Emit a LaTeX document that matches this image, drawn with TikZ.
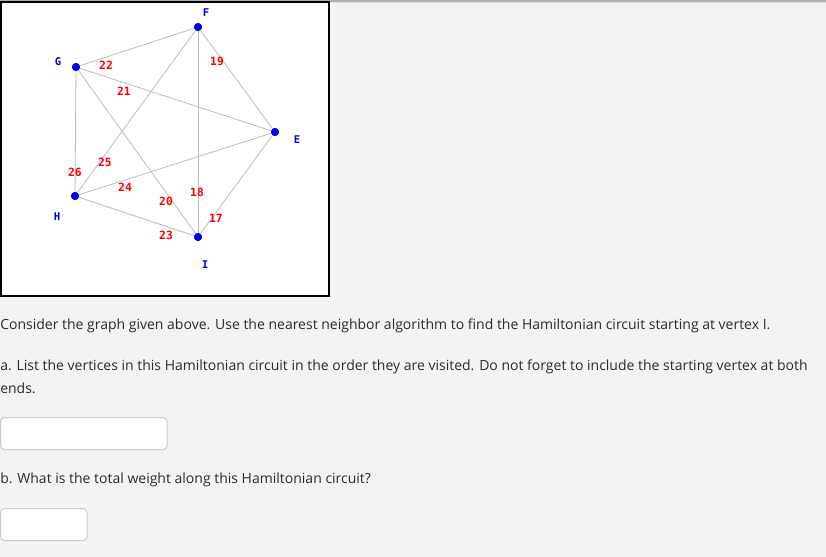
\documentclass[tikz,border=0pt]{standalone}
\usepackage{fontspec}
\setmainfont{Open Sans}
\newfontfamily\lblfont{DejaVu Sans Mono}
\definecolor{pagebg}{HTML}{F3F3F3}
\definecolor{edgegray}{HTML}{BDBDBD}
\definecolor{vblue}{HTML}{0000F0}
\definecolor{wred}{HTML}{FF0000}
\definecolor{txtgray}{HTML}{2B2B2B}
\definecolor{boxborder}{HTML}{CCCCCC}
\begin{document}
\begin{tikzpicture}[x=0.75pt,y=-0.75pt,
  vtx/.style={circle,fill=vblue,inner sep=0pt,minimum size=6pt},
  vlabel/.style={text=vblue,font=\lblfont\bfseries\fontsize{8}{9}\selectfont,inner sep=0pt},
  wlabel/.style={text=wred,font=\lblfont\bfseries\fontsize{8.5}{9}\selectfont,inner sep=0pt},
  edge/.style={draw=edgegray,line width=0.6pt},
  qtext/.style={anchor=west,text=txtgray,font=\fontsize{10.5}{12}\selectfont,inner sep=0pt},
  inbox/.style={draw=boxborder,fill=white,rounded corners=3pt,line width=0.75pt}]
\useasboundingbox (0,0) rectangle (826,557);
\fill[pagebg] (0,0) rectangle (826,557);
\fill[gray!60] (0,0) rectangle (826,1.5);
\fill[gray!25] (0,1.5) rectangle (826,3);
% picture box
\draw[fill=white,line width=1.2pt] (0.8,2) rectangle (329,296);
% vertices
\node[vtx] (F) at (198,27) {};
\node[vtx] (G) at (76,67) {};
\node[vtx] (E) at (275,132) {};
\node[vtx] (H) at (75,196) {};
\node[vtx] (I) at (198,237) {};
% edges
\draw[edge] (G) -- (F);
\draw[edge] (F) -- (E);
\draw[edge] (G) -- (E);
\draw[edge] (F) -- (H);
\draw[edge] (G) -- (H);
\draw[edge] (H) -- (E);
\draw[edge] (G) -- (I);
\draw[edge] (F) -- (I);
\draw[edge] (E) -- (I);
\draw[edge] (H) -- (I);
\node[vtx] at (F) {};
\node[vtx] at (G) {};
\node[vtx] at (E) {};
\node[vtx] at (H) {};
\node[vtx] at (I) {};
% vertex labels
\node[vlabel] (lF) at (206,13) {F};
\node[vlabel] (lG) at (58,62) {G};
\node[vlabel] (lE) at (297,140) {E};
\node[vlabel] (lH) at (57,217) {H};
\node[vlabel] (lI) at (205,265) {I};
% weights
\node[wlabel] (w22) at (106,65) {22};
\node[wlabel] (w21) at (124,91) {21};
\node[wlabel] (w19) at (217,61) {19};
\node[wlabel] (w25) at (105,162) {25};
\node[wlabel] (w26) at (75,172) {26};
\node[wlabel] (w24) at (125,187) {24};
\node[wlabel] (w20) at (166,201) {20};
\node[wlabel] (w18) at (197,192) {18};
\node[wlabel] (w17) at (216,218) {17};
\node[wlabel] (w23) at (166,235) {23};
% question text
\node[qtext] (q1) at (0,326) {Consider the graph given above. Use the nearest neighbor algorithm to find the Hamiltonian circuit starting at vertex I.};
\node[qtext] (q2) at (0,367) {a. List the vertices in this Hamiltonian circuit in the order they are visited. Do not forget to include the starting vertex at both};
\node[qtext] (q3) at (0,388) {ends.};
\draw[inbox] (0.5,417.5) rectangle (167,449.5);
\node[qtext] (q4) at (0,480) {b. What is the total weight along this Hamiltonian circuit?};
\draw[inbox] (0.5,508.5) rectangle (87,540.5);
\end{tikzpicture}
\end{document}
